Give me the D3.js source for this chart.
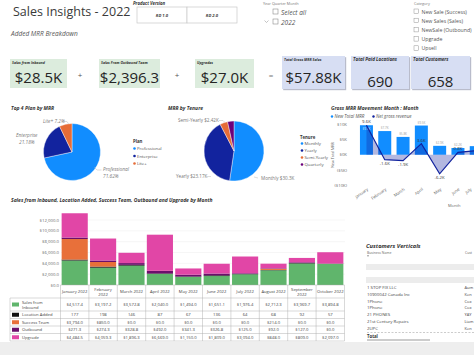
<!DOCTYPE html>
<html><head><meta charset="utf-8">
<script src="https://cdn.jsdelivr.net/npm/d3@7"></script>
<style>
body{margin:0;background:#fff;}
svg{display:block;font-family:"Open Sans","Segoe UI",sans-serif;}
</style></head><body>
<svg id="c" width="474" height="355"></svg>
<script>
// ---------- DATA ----------
const kpiLabels = ["Sales from Inbound","Sales From Outbound Team","Upgrades","Total Gross MRR Sales","Total Paid Locations","Total Customers"];
const kpiValues = ["$28.5K","$2,396.3","$27.0K","$57.88K","690","658"];
const productVersions = ["RD 1.0","RD 2.0"];
const yearFilter = ["Select all","2022"];
const categoryOptions = ["New Sale (Success)","New Sales (Sales)","NewSale (Outbound)","Upgrade","Upsell"];
const planNames = ["Professional","Enterprise","Lite+"];
const planShares = [71.62,21.18,7.2];
const tenureNames = ["Monthly","Yearly","Semi-Yearly","Quarterly"];
const tenureValues = [30.3,23.17,2.42,1.99];
const tenureLabels = ["$30.3K","$23.17K","$2.42K","$1.99K"];
const movementMonths = ["January","February","March","April","May","June","July"];
const newTotalMRR = [9.6,7.7,5.8,9.5,2.9,2.2,2.8];
const netGrossRevenue = [9.6,-1.6,-1.9,3.6,-6.2,0.8,1.3];
const movementTicks = [-10,-5,0,5,10];
const salesMonths = ["January 2022","February 2022","March 2022","April 2022","May 2022","June 2022","July 2022","August 2022","September 2022","October 2022"];
const inbound = [4517.4,3197.2,3572.8,2040.0,1494.0,1651.1,1976.4,2712.3,3969.7,3894.8];
const locationAdded = [177,198,146,87,67,136,64,68,92,57];
const successTeam = [3794.0,850.0,0,0,0,0,0,214.0,0,0];
const outbound = [271.3,274.3,328.8,492.0,341.3,326.8,125.0,92.0,127.0,0];
const upgrade = [4484.5,4059.3,1896.3,6669.0,1150.0,1809.0,3094.0,848.0,809.0,2097.0];
const salesSeries = ["Sales from Inbound","Location Added","Success Team","Outbound","Upgrade"];
const salesTicks = [0,2000,4000,6000,8000,10000,12000];
const businessNames = ["1 STOP FIX LLC","10900042 Canada Inc","1Phone","1Phone","21 PHONES","21st Century Repairs","2UPC"];
const customerNames = ["Aum","Ken","Cox","Cox","YAY","Liam","Ken"];

// ---------- HELPERS ----------
const svg = d3.select("#c");
function txt(g,x,y,s,o={}){
  return g.append("text").attr("x",x).attr("y",y).text(s)
    .attr("font-size",o.size||5).attr("fill",o.fill||"#333")
    .attr("font-style",o.italic?"italic":null).attr("font-weight",o.bold?"bold":null)
    .attr("text-anchor",o.anchor||"start");
}
svg.append("rect").attr("width",474).attr("height",355).attr("fill","#fff");
svg.append("rect").attr("x",0).attr("y",342).attr("width",474).attr("height",13).attr("fill","#eeeeee");

// ---------- HEADER ----------
txt(svg,13,16,"Sales Insights - 2022",{size:12.5,fill:"#3a3a3a"});
txt(svg,11,36,"Added MRR Breakdown",{size:6.5,italic:true,fill:"#555"});
txt(svg,133,5,"Product Version",{size:4.3,bold:true,italic:true,fill:"#333"});
productVersions.forEach((p,i)=>{
  svg.append("rect").attr("x",137+i*50).attr("y",7).attr("width",50).attr("height",16)
    .attr("fill","#fff").attr("stroke","#c8c8c8").attr("stroke-width",0.7);
  txt(svg,162+i*50,17,p,{size:4.2,italic:true,bold:true,anchor:"middle",fill:"#444"});
});
txt(svg,263,5,"Year Quarter Month",{size:3.8,fill:"#777"});
yearFilter.forEach((t,i)=>{
  svg.append("rect").attr("x",273).attr("y",9+i*10).attr("width",5).attr("height",5)
    .attr("fill","#fff").attr("stroke","#777").attr("stroke-width",0.5);
  txt(svg,281,14.5+i*10,t,{size:6.5,italic:true,fill:"#555"});
});
svg.append("path").attr("d","M264.5,20.5 L266.5,22.5 L268.5,20.5").attr("fill","none").attr("stroke","#888").attr("stroke-width",0.5);
txt(svg,414,4.5,"Category",{size:3.8,fill:"#777"});
categoryOptions.forEach((t,i)=>{
  const y = 11.5+i*9.2;
  svg.append("rect").attr("x",414).attr("y",y-2.5).attr("width",4.5).attr("height",4.5)
    .attr("fill","#fff").attr("stroke","#888").attr("stroke-width",0.45);
  txt(svg,421.5,y+2,t,{size:5.2,fill:"#555"});
});

// ---------- KPI CARDS ----------
const cardGeom = [
  {x:10,y:59,w:57,h:29,c:"#dcecdd",sh:false,vy:83},
  {x:99,y:59,w:61,h:29,c:"#dcecdd",sh:false,vy:83},
  {x:195,y:59,w:59,h:29,c:"#dcecdd",sh:false,vy:83},
  {x:282,y:56,w:63,h:33,c:"#d7def3",sh:true,vy:83},
  {x:351,y:56,w:58,h:33,c:"#d7def3",sh:true,vy:86.5},
  {x:411,y:56,w:59,h:33,c:"#d7def3",sh:true,vy:86.5}
];
cardGeom.forEach((g,i)=>{
  if(g.sh) svg.append("rect").attr("x",g.x+1.2).attr("y",g.y+1.2).attr("width",g.w).attr("height",g.h).attr("fill","#b9bccb");
  svg.append("rect").attr("x",g.x).attr("y",g.y).attr("width",g.w).attr("height",g.h).attr("fill",g.c);
  txt(svg,g.x+2,g.y+4.5,kpiLabels[i],{size:i>=4?4.6:3.6,bold:true,italic:true,fill:"#333"});
  txt(svg,g.x+g.w/2,g.vy,kpiValues[i],{size:15,anchor:"middle",fill:"#252525"});
});
txt(svg,80,78,"+",{size:8,anchor:"middle",fill:"#555"});
txt(svg,177,78,"+",{size:8,anchor:"middle",fill:"#555"});
txt(svg,271,78,"=",{size:8,anchor:"middle",fill:"#777"});

// ---------- PIE 1 ----------
const planColors = ["#118dff","#12239e","#e66c37"];
txt(svg,11,110,"Top 4 Plan by MRR",{size:5,bold:true,italic:true,fill:"#333"});
{
  const g = svg.append("g").attr("transform","translate(72,152)");
  const arcs = d3.pie().sort(null)(planShares);
  g.selectAll("path").data(arcs).join("path")
    .attr("d",d3.arc().innerRadius(0).outerRadius(28.5))
    .attr("fill",(d,i)=>planColors[i]).attr("stroke","#fff").attr("stroke-width",0.4);
  txt(svg,43,123,"Lite+ "+planShares[2]+"%",{size:4.8,italic:true,fill:"#777"});
  svg.append("path").attr("d","M63,121.5 L67,121.5 L68.5,124").attr("stroke","#aaa").attr("fill","none").attr("stroke-width",0.4);
  txt(svg,16,137,"Enterprise",{size:4.8,italic:true,fill:"#777"});
  txt(svg,19,144,planShares[1]+"%",{size:4.8,italic:true,fill:"#777"});
  txt(svg,103,171,"Professional",{size:4.8,italic:true,fill:"#777"});
  txt(svg,103,178,planShares[0]+"%",{size:4.8,italic:true,fill:"#777"});
  svg.append("path").attr("d","M101.5,170 L97,170 L94,167").attr("stroke","#aaa").attr("fill","none").attr("stroke-width",0.4);
  txt(svg,133,143,"Plan",{size:4.3,bold:true,fill:"#333"});
  planNames.forEach((n,i)=>{
    svg.append("circle").attr("cx",134.5).attr("cy",148.5+i*7.5).attr("r",1.3).attr("fill",planColors[i]);
    txt(svg,137,150.3+i*7.5,n,{size:4.3,fill:"#555"});
  });
}

// ---------- PIE 2 ----------
const tenureColors = ["#118dff","#12239e","#e66c37","#6b007b"];
txt(svg,168,110,"MRR by Tenure",{size:5,bold:true,italic:true,fill:"#333"});
{
  const g = svg.append("g").attr("transform","translate(234,151)");
  const arcs = d3.pie().sort(null)(tenureValues);
  g.selectAll("path").data(arcs).join("path")
    .attr("d",d3.arc().innerRadius(0).outerRadius(30))
    .attr("fill",(d,i)=>tenureColors[i]).attr("stroke","#fff").attr("stroke-width",0.4);
  txt(svg,178,122,tenureNames[2]+" "+tenureLabels[2],{size:4.6,fill:"#777"});
  svg.append("path").attr("d","M219,120.5 L223,120.5 L225,122.5").attr("stroke","#aaa").attr("fill","none").attr("stroke-width",0.4);
  txt(svg,176,178,tenureNames[1]+" "+tenureLabels[1],{size:4.6,fill:"#777"});
  svg.append("path").attr("d","M207,176.5 L211,176.5").attr("stroke","#aaa").attr("fill","none").attr("stroke-width",0.4);
  txt(svg,261,179.5,tenureNames[0]+" "+tenureLabels[0],{size:4.6,fill:"#777"});
  svg.append("path").attr("d","M254,177 L258,178").attr("stroke","#aaa").attr("fill","none").attr("stroke-width",0.4);
  txt(svg,300,138.5,"Tenure",{size:4.3,bold:true,fill:"#333"});
  tenureNames.forEach((n,i)=>{
    svg.append("circle").attr("cx",302).attr("cy",143.5+i*7).attr("r",1.3).attr("fill",tenureColors[i]);
    txt(svg,304.5,145.3+i*7,n,{size:4.3,fill:"#555"});
  });
}

// ---------- GROSS MRR MOVEMENT ----------
{
  txt(svg,331,110,"Gross MRR Movement Month : Month",{size:5,bold:true,italic:true,fill:"#333"});
  svg.append("circle").attr("cx",332).attr("cy",116.5).attr("r",1.2).attr("fill","#118dff");
  txt(svg,334.5,118.2,"New Total MRR",{size:4.5,italic:true,fill:"#555"});
  svg.append("circle").attr("cx",373.5).attr("cy",116.5).attr("r",1.2).attr("fill","#12239e");
  txt(svg,376,118.2,"Net gross revenue",{size:4.5,italic:true,fill:"#555"});
  const y = d3.scaleLinear().domain([-10,10]).range([185.5,124]);
  const x = d3.scaleBand().domain(movementMonths).range([357.3,485.4]).paddingInner(0.29).paddingOuter(0.145);
  const g = svg.append("g");
  movementTicks.forEach(t=>{
    const lab = t<0 ? "($"+(-t)+"K)" : "$"+t+"K";
    txt(g,347,y(t)+1.5,lab,{size:4.3,anchor:"end",fill:"#666"});
  });
  g.append("text").attr("transform","translate(334,155) rotate(-90)").attr("text-anchor","middle")
    .attr("font-size",3.6).attr("fill","#666").text("New Total MRR");
  g.selectAll("rect.b").data(movementMonths).join("rect").attr("class","b")
    .attr("x",d=>x(d)).attr("width",x.bandwidth())
    .attr("y",(d,i)=>y(newTotalMRR[i])).attr("height",(d,i)=>y(0)-y(newTotalMRR[i]))
    .attr("fill","#118dff");
  const cx = d=>x(d)+x.bandwidth()/2;
  movementMonths.forEach((m,i)=>{
    if(cx(m)+5>474) return;
    const near = Math.abs(newTotalMRR[i]-netGrossRevenue[i])<1;
    const yy = near ? y(newTotalMRR[i])+4.5 : y(newTotalMRR[i])-2;
    txt(g,cx(m),yy,"$"+newTotalMRR[i]+"K",{size:3,anchor:"middle",fill:near?"#dfe9ff":"#999"});
  });
  const pts = movementMonths.map((m,i)=>[cx(m),y(netGrossRevenue[i])]);
  g.append("path").attr("d",d3.area().x(d=>d[0]).y0(y(0)).y1(d=>d[1])(pts))
    .attr("fill","#12239e").attr("fill-opacity",0.32);
  g.append("path").attr("d",d3.line()(pts)).attr("fill","none").attr("stroke","#12239e").attr("stroke-width",1.2);
  movementMonths.forEach((m,i)=>{
    const v = netGrossRevenue[i];
    const yy = v>=0 ? y(v)-1.8 : y(v)+5.5;
    if(cx(m)+5<474) txt(g,cx(m),yy,v+"K",{size:4.3,anchor:"middle",fill:"#333"});
  });
  movementMonths.forEach(m=>{
    g.append("text").attr("transform",`translate(${Math.min(cx(m)+2,472)},${190}) rotate(-35)`)
      .attr("text-anchor","end").attr("font-size",4.2).attr("fill","#666").text(m);
  });
  txt(g,448,207,"Month",{size:4,fill:"#666"});
}

// ---------- STACKED BARS ----------
{
  txt(svg,11,202,"Sales from Inbound, Location Added, Success Team, Outbound and Upgrade by Month",{size:5,bold:true,italic:true,fill:"#333"});
  const colors = ["#60b56c","#111111","#e8703a","#6b0f6b","#e146a6"];
  const arrays = [inbound,locationAdded,successTeam,outbound,upgrade];
  const rows = salesMonths.map((m,i)=>{const o={month:m}; salesSeries.forEach((s,k)=>o[s]=arrays[k][i]); return o;});
  const stack = d3.stack().keys(salesSeries)(rows);
  const y = d3.scaleLinear().domain([0,12000]).range([285,220]);
  const x = d3.scaleBand().domain(salesMonths).range([60.5,344.5]).paddingInner(0.08).paddingOuter(0.04);
  const g = svg.append("g");
  salesTicks.forEach(t=>{
    if(t>0) g.append("line").attr("x1",61).attr("x2",345).attr("y1",y(t)).attr("y2",y(t)).attr("stroke","#ececec").attr("stroke-width",0.5);
    txt(g,59,y(t)+1.5,d3.format("$,.1f")(t),{size:4.3,anchor:"end",fill:"#666"});
  });
  stack.forEach((layer,k)=>{
    g.selectAll("rect.s"+k).data(layer).join("rect")
      .attr("x",d=>x(d.data.month)).attr("width",x.bandwidth())
      .attr("y",d=>y(d[1])).attr("height",d=>Math.max(0,y(d[0])-y(d[1])))
      .attr("fill",colors[k]);
  });
  // table
  const step = x.step();
  const colX = i=>60.5+i*step;
  const rowTops = [298,311,318.5,326,333.5,341];
  const lineC = "#a9a9a9";
  for(let i=0;i<=10;i++) g.append("line").attr("x1",colX(i)).attr("x2",colX(i)).attr("y1",285).attr("y2",341).attr("stroke",lineC).attr("stroke-width",0.45);
  g.append("line").attr("x1",10).attr("x2",10).attr("y1",298).attr("y2",341).attr("stroke",lineC).attr("stroke-width",0.45);
  g.append("line").attr("x1",colX(0)).attr("x2",colX(10)).attr("y1",285).attr("y2",285).attr("stroke",lineC).attr("stroke-width",0.45);
  rowTops.forEach(t=>g.append("line").attr("x1",10).attr("x2",colX(10)).attr("y1",t).attr("y2",t).attr("stroke",lineC).attr("stroke-width",0.45));
  salesMonths.forEach((m,i)=>{
    const cxm = colX(i)+step/2;
    const wrap = m.length>12;
    if(wrap){
      const parts = m.split(" ");
      txt(g,cxm,290.5,parts[0],{size:4.2,anchor:"middle",fill:"#444"});
      txt(g,cxm,295.5,parts[1],{size:4.2,anchor:"middle",fill:"#444"});
    } else txt(g,cxm,293,m,{size:4.2,anchor:"middle",fill:"#444"});
  });
  salesSeries.forEach((s,k)=>{
    const top = rowTops[k], bot = rowTops[k+1], mid=(top+bot)/2;
    g.append("rect").attr("x",12).attr("y",mid-2).attr("width",7).attr("height",4).attr("fill",colors[k]);
    if(k===0){
      txt(g,22,mid-0.6,"Sales from",{size:4.2,fill:"#444"});
      txt(g,22,mid+4.2,"Inbound",{size:4.2,fill:"#444"});
    } else txt(g,22,mid+1.5,s,{size:4.2,fill:"#444"});
    arrays[k].forEach((v,i)=>{
      const lab = k===1 ? String(v) : d3.format("$,.1f")(v);
      txt(g,colX(i)+step/2,mid+1.5,lab,{size:4.2,anchor:"middle",fill:"#444"});
    });
  });
}

// ---------- CUSTOMER VERTICALS ----------
{
  txt(svg,366,247.5,"Customers Verticals",{size:5.8,bold:true,italic:true,fill:"#333"});
  txt(svg,367,254,"Business Name",{size:3.4,fill:"#666"});
  txt(svg,465,254,"Cust",{size:3.4,fill:"#666"});
  svg.append("rect").attr("x",367.5).attr("y",255.3).attr("width",1).attr("height",1).attr("fill","#333");
  svg.append("rect").attr("x",366).attr("y",264).attr("width",108).attr("height",6).attr("fill","#ececec");
  svg.append("rect").attr("x",366).attr("y",277).attr("width",108).attr("height",6).attr("fill","#ececec");
  businessNames.forEach((n,i)=>{
    txt(svg,367,289+i*6.8,n,{size:4.3,fill:"#444"});
    txt(svg,464.5,289+i*6.8,customerNames[i],{size:4,fill:"#444"});
  });
  svg.append("line").attr("x1",367).attr("x2",474).attr("y1",332.5).attr("y2",332.5).attr("stroke","#999").attr("stroke-width",0.5).attr("stroke-dasharray","2,1.5");
  txt(svg,367,337.5,"Total",{size:4.3,bold:true,fill:"#333"});
  svg.append("line").attr("x1",367).attr("x2",430).attr("y1",340).attr("y2",340).attr("stroke","#999").attr("stroke-width",1.2);
}
</script>
</body></html>
